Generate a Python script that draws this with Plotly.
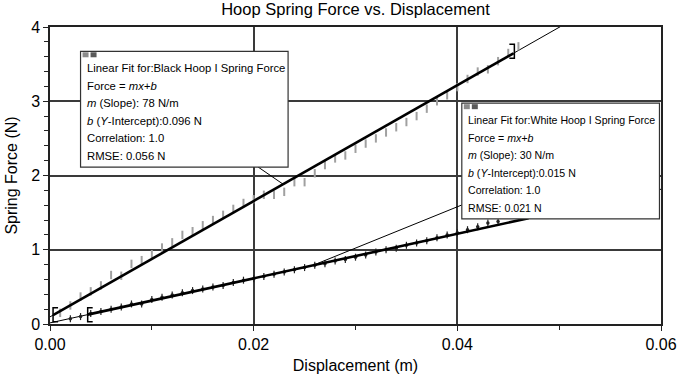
import plotly.graph_objects as go

# ---------------- data ----------------
black_x = [round(0.001 * i, 3) for i in range(1, 47)]
black_force = [0.15, 0.25, 0.37, 0.44, 0.52, 0.66, 0.65, 0.81, 0.86, 0.94,
               1.03, 1.10, 1.20, 1.25, 1.33, 1.40, 1.47, 1.55, 1.63, 1.68,
               1.74, 1.74, 1.78, 1.91, 1.91, 2.03, 2.14, 2.23, 2.27, 2.36,
               2.43, 2.50, 2.58, 2.65, 2.72, 2.80, 2.90, 3.00, 3.08, 3.19,
               3.30, 3.40, 3.43, 3.54, 3.65, 3.74]

white_x = [round(0.001 * i, 3) for i in range(2, 45)]
white_force = [0.07, 0.10, 0.14, 0.17, 0.20, 0.23, 0.27, 0.27, 0.33, 0.36,
               0.39, 0.42, 0.45, 0.47, 0.50, 0.52, 0.56, 0.59, 0.61, 0.64,
               0.67, 0.70, 0.73, 0.76, 0.79, 0.81, 0.85, 0.87, 0.90, 0.93,
               0.97, 1.00, 1.02, 1.06, 1.09, 1.12, 1.16, 1.20, 1.23, 1.27,
               1.31, 1.36, 1.38]

black_m, black_b = 78.0, 0.096
white_m, white_b = 30.0, 0.015
black_fit_range = [0.0003, 0.0455]
white_fit_range = [0.0037, 0.047]

x_ticks = [0.00, 0.02, 0.04, 0.06]
x_tick_labels = ["0.00", "0.02", "0.04", "0.06"]
y_ticks = [0, 1, 2, 3, 4]
y_tick_labels = ["0", "1", "2", "3", "4"]

black_lines = ["Linear Fit for:Black Hoop I Spring Force",
               "Force = <i>mx+b</i>",
               "<i>m</i> (Slope): 78 N/m",
               "<i>b</i> (<i>Y</i>-Intercept):0.096 N",
               "Correlation: 1.0",
               "RMSE: 0.056 N"]
white_lines = ["Linear Fit for:White Hoop I Spring Force",
               "Force = <i>mx+b</i>",
               "<i>m</i> (Slope): 30 N/m",
               "<i>b</i> (<i>Y</i>-Intercept):0.015 N",
               "Correlation: 1.0",
               "RMSE: 0.021 N"]

FONT = "Liberation Sans, Arial, Helvetica, sans-serif"


def fit(m, b, xs):
    return [m * x + b for x in xs]


fig = go.Figure()

# thin full-width fit lines (clipped to plot area)
fig.add_trace(go.Scatter(x=[0, 0.06], y=fit(black_m, black_b, [0, 0.06]), mode="lines",
                         line=dict(color="black", width=1), hoverinfo="skip", showlegend=False))
fig.add_trace(go.Scatter(x=[0, 0.06], y=fit(white_m, white_b, [0, 0.06]), mode="lines",
                         line=dict(color="black", width=1), hoverinfo="skip", showlegend=False))

# data
fig.add_trace(go.Scatter(x=black_x, y=black_force, mode="markers",
                         marker=dict(symbol="line-ns", size=6, line=dict(color="#a0a0a0", width=2)),
                         showlegend=False, name="Black Hoop"))
fig.add_trace(go.Scatter(x=white_x, y=white_force, mode="markers",
                         marker=dict(symbol="line-ns", size=5, line=dict(color="#222", width=1.2)),
                         showlegend=False, name="White Hoop"))
fig.add_trace(go.Scatter(x=white_x, y=white_force, mode="markers",
                         marker=dict(symbol="circle", size=3.5, color="#222"),
                         showlegend=False, hoverinfo="skip"))

# thick fit segments over the fit range
fig.add_trace(go.Scatter(x=black_fit_range, y=fit(black_m, black_b, black_fit_range), mode="lines",
                         line=dict(color="black", width=2.6), hoverinfo="skip", showlegend=False))
fig.add_trace(go.Scatter(x=white_fit_range, y=fit(white_m, white_b, white_fit_range), mode="lines",
                         line=dict(color="black", width=2.6), hoverinfo="skip", showlegend=False))

shapes = []
annotations = []

# range brackets
def bracket(xa, ya, left=True):
    p = "M 5 -7 L 0 -7 L 0 7 L 5 7" if left else "M -5 -7 L 0 -7 L 0 7 L -5 7"
    return dict(type="path", xref="x", yref="y", xsizemode="pixel", ysizemode="pixel",
                xanchor=xa, yanchor=ya, path=p, line=dict(color="black", width=1.5), layer="above")

shapes.append(bracket(black_fit_range[0], black_b + 0.03, True))
shapes.append(bracket(white_fit_range[0], white_m * white_fit_range[0] + white_b, True))
shapes.append(bracket(black_fit_range[1] + 0.0001, black_m * black_fit_range[1] + black_b + 0.03, False))

# boxes (x0, x1, y0, y1) in data units
black_box = (0.0030, 0.02338, 2.114, 3.673)
white_box = (0.04044, 0.05985, 1.415, 2.974)

# pointer lines from fit lines to boxes
bx = 0.0229
shapes.append(dict(type="line", xref="x", yref="y", x0=bx, y0=black_m * bx + black_b,
                   x1=0.02044, y1=black_box[2], line=dict(color="black", width=1), layer="above"))
wx = 0.0258
shapes.append(dict(type="line", xref="x", yref="y", x0=wx, y0=white_m * wx + white_b,
                   x1=white_box[0], y1=1.603, line=dict(color="black", width=1), layer="above"))


def add_box(box, lines, fsize, xshift):
    x0, x1, y0, y1 = box
    shapes.append(dict(type="rect", xref="x", yref="y", x0=x0, x1=x1, y0=y0, y1=y1,
                       fillcolor="white", line=dict(color="#333", width=1.2), layer="above"))
    # small grey squares at top-left
    for i, c in enumerate(["#8a8a8a", "#5a5a5a"]):
        shapes.append(dict(type="rect", xref="x", yref="y", xsizemode="pixel", ysizemode="pixel",
                           xanchor=x0, yanchor=y1, x0=2 + 8 * i, x1=8 + 8 * i, y0=-1, y1=-6,
                           fillcolor=c, line=dict(width=0), layer="above"))
    for i, t in enumerate(lines):
        annotations.append(dict(xref="x", yref="y", x=x0, y=y1, xanchor="left", yanchor="middle",
                                xshift=xshift, yshift=-(17 + 17.5 * i), text=t, showarrow=False,
                                font=dict(family=FONT, size=fsize, color="black")))


add_box(black_box, black_lines, 11.3, 4)
add_box(white_box, white_lines, 10.6, 4)

fig.update_layout(
    width=679, height=375,
    margin=dict(l=50, r=18, t=27, b=51),
    paper_bgcolor="white", plot_bgcolor="white",
    font=dict(family=FONT, color="black"),
    title=dict(text="Hoop Spring Force vs. Displacement", x=0.5236, xanchor="center",
               y=0.975, yanchor="middle", font=dict(size=16.5)),
    shapes=shapes, annotations=annotations,
    showlegend=False,
)
fig.update_xaxes(range=[0, 0.06], tickvals=x_ticks, ticktext=x_tick_labels, automargin=False,
                 showgrid=True, gridcolor="#3a3a3a", gridwidth=1.5,
                 showline=True, linecolor="#222", linewidth=1.5, mirror=True,
                 ticks="outside", ticklen=5, tickwidth=1, tickcolor="#222",
                 minor=dict(dtick=0.01, tick0=0, ticks="outside", ticklen=4, tickcolor="#222", showgrid=False),
                 tickfont=dict(size=16), zeroline=False,
                 title=dict(text="Displacement (m)", font=dict(size=16), standoff=8))
fig.update_yaxes(range=[0, 4], tickvals=y_ticks, ticktext=y_tick_labels, automargin=False,
                 showgrid=True, gridcolor="#3a3a3a", gridwidth=1.5,
                 showline=True, linecolor="#222", linewidth=1.5, mirror=True,
                 ticks="outside", ticklen=5, tickwidth=1, tickcolor="#222",
                 minor=dict(dtick=0.2, tick0=0, ticks="outside", ticklen=4, tickcolor="#222", showgrid=False),
                 tickfont=dict(size=16), zeroline=False,
                 title=dict(text="Spring Force (N)", font=dict(size=16), standoff=10))

fig.write_html("out.html", config={"displayModeBar": False},
               post_script="document.body.style.margin='0px';")
